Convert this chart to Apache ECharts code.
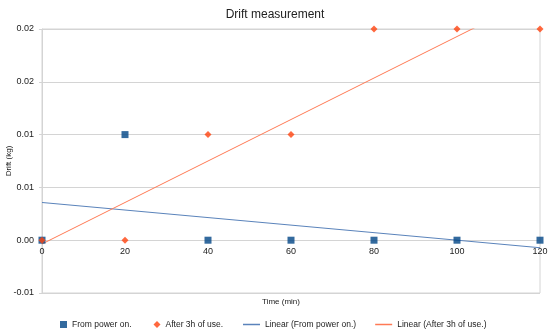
<!DOCTYPE html>
<html>
<head>
<meta charset="utf-8">
<script src="https://cdn.jsdelivr.net/npm/echarts@6/dist/echarts.min.js"></script>
<style>
  html, body { margin: 0; padding: 0; background: #fff; }
  #chart { width: 550px; height: 333px; }
</style>
</head>
<body>
<div id="chart"></div>
<script>
// ---- Data ----
const xValues = [0, 20, 40, 60, 80, 100, 120];
const powerOn = [0, 0.01, 0, 0, 0, 0, 0];
const after3h = [0, 0, 0.01, 0.01, 0.02, 0.02, 0.02];
const yTickLabels = ['-0.01', '0.00', '0.01', '0.01', '0.02', '0.02'];
const xTickLabels = ['0', '20', '40', '60', '80', '100', '120'];
const seriesNames = ['From power on.', 'After 3h of use.', 'Linear (From power on.)', 'Linear (After 3h of use.)'];

const yMin = -0.005, yMax = 0.02, yInterval = 0.005;

function linearFit(xs, ys) {
  const n = xs.length;
  const mx = xs.reduce((a, b) => a + b, 0) / n;
  const my = ys.reduce((a, b) => a + b, 0) / n;
  let sxy = 0, sxx = 0;
  for (let i = 0; i < n; i++) { sxy += (xs[i] - mx) * (ys[i] - my); sxx += (xs[i] - mx) * (xs[i] - mx); }
  const slope = sxy / sxx;
  return { slope, intercept: my - slope * mx };
}
function trendData(xs, ys) {
  const f = linearFit(xs, ys);
  const x0 = xs[0], x1 = xs[xs.length - 1];
  return [[x0, f.intercept + f.slope * x0], [x1, f.intercept + f.slope * x1]];
}
const pairs = (xs, ys) => xs.map((x, i) => [x, ys[i]]);

const blue = '#004586', orange = '#ff420e';
const font = 'Liberation Sans, Arial, sans-serif';

const gridTop = 29, gridBottom = 40, chartH = 333;
// place the x axis on the y = 0 line of the value scale
const zeroOffset = -((0 - yMin) / (yMax - yMin)) * (chartH - gridTop - gridBottom);

const chart = echarts.init(document.getElementById('chart'), null, { renderer: 'canvas' });
chart.setOption({
  animation: false,
  backgroundColor: '#ffffff',
  textStyle: { fontFamily: font },
  title: [
    { text: 'Drift measurement', left: 'center', top: 4,
      textStyle: { fontSize: 12, fontWeight: 'normal', color: '#222', fontFamily: font } },
    { text: 'Time (min)', left: 276, top: 293, textAlign: 'center',
      textStyle: { fontSize: 8, fontWeight: 'normal', color: '#222', fontFamily: font } }
  ],
  legend: [
    { data: [{ name: seriesNames[0], icon: 'rect' }, { name: seriesNames[1], icon: 'diamond' }],
      left: 55, top: 315, itemWidth: 7, itemHeight: 7, itemGap: 22,
      textStyle: { fontSize: 8.5, color: '#222', fontFamily: font } },
    { data: [{ name: seriesNames[2], icon: 'rect' }, { name: seriesNames[3], icon: 'rect' }],
      left: 238, top: 315, itemWidth: 17, itemHeight: 1.5, itemGap: 19,
      textStyle: { fontSize: 8.5, color: '#222', fontFamily: font } }
  ],
  grid: { left: 42, right: 10, top: gridTop, bottom: gridBottom, containLabel: false, outerBoundsMode: 'none',
    show: true, borderColor: '#d4d4d4', borderWidth: 1 },
  xAxis: {
    type: 'value', min: 0, max: 120, interval: 20, position: 'bottom', offset: zeroOffset,
    axisLine: { show: true, onZero: false, lineStyle: { color: '#d4d4d4' } },
    axisTick: { show: false },
    splitLine: { show: false },
    axisLabel: { margin: 7, fontSize: 9, color: '#222', fontFamily: font,
      formatter: (v) => xTickLabels[Math.round(v / 20)] }
  },
  yAxis: {
    type: 'value', min: yMin, max: yMax, interval: yInterval,
    name: 'Drift (kg)', nameLocation: 'middle', nameGap: 29, nameRotate: 90, nameMoveOverlap: false,
    nameTextStyle: { fontSize: 8, color: '#222', fontFamily: font },
    axisLine: { show: true, onZero: false, lineStyle: { color: '#d4d4d4' } },
    axisTick: { show: true, length: 3, lineStyle: { color: '#d4d4d4' } },
    splitLine: { show: true, lineStyle: { color: '#d4d4d4' } },
    axisLabel: { margin: 8, fontSize: 9, color: '#222', fontFamily: font,
      formatter: (v) => yTickLabels[Math.round((v - yMin) / yInterval)] }
  },
  series: [
    { name: seriesNames[2], type: 'line', data: trendData(xValues, powerOn), symbol: 'none', clip: true,
      lineStyle: { color: '#5a83bb', width: 1 }, itemStyle: { color: '#5a83bb' }, z: 2 },
    { name: seriesNames[3], type: 'line', data: trendData(xValues, after3h), symbol: 'none', clip: true,
      lineStyle: { color: '#ff7a55', width: 1 }, itemStyle: { color: '#ff7a55' }, z: 2 },
    { name: seriesNames[0], type: 'scatter', data: pairs(xValues, powerOn), symbol: 'rect', symbolSize: 7,
      itemStyle: { color: blue }, z: 3, clip: false },
    { name: seriesNames[1], type: 'scatter', data: pairs(xValues, after3h), symbol: 'diamond', symbolSize: 7,
      itemStyle: { color: orange }, z: 4, clip: false }
  ]
});
</script>
</body>
</html>
